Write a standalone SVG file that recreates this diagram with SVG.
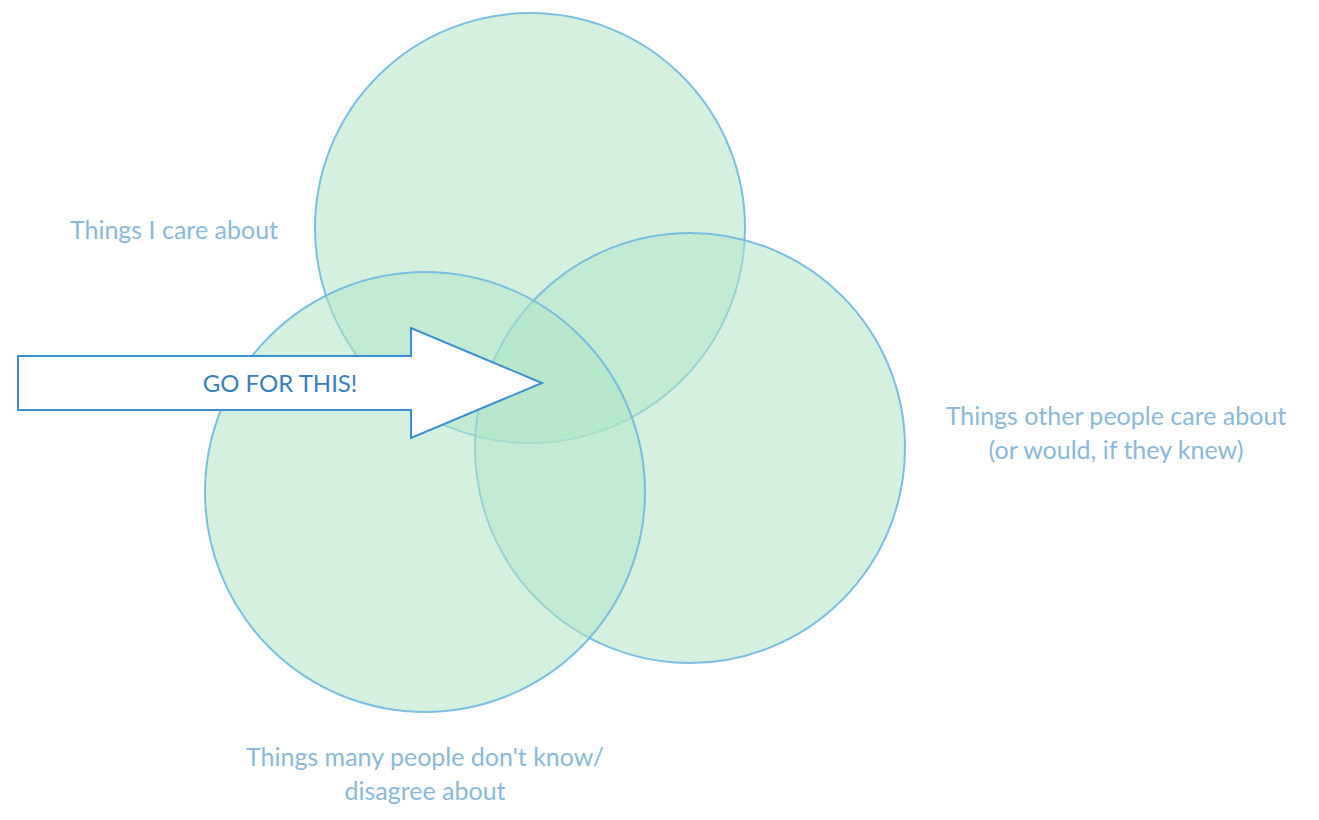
<svg xmlns="http://www.w3.org/2000/svg" width="1319" height="820" viewBox="0 0 1319 820">
<style>
.c{fill:#b1e6c7;fill-opacity:0.55;stroke:#6fb8e0;stroke-width:2;stroke-opacity:0.9}
.t{font-family:Lato,"Liberation Sans",sans-serif;font-size:25px;fill:#8ab9d9}
</style>
<rect width="1319" height="820" fill="#fff"/>
<g id="top"><circle class="c" cx="530" cy="228" r="215"/></g>
<g id="right"><circle class="c" cx="690" cy="448" r="215"/></g>
<g id="left"><circle class="c" cx="425" cy="492" r="220"/></g>
<g id="labels">
<text class="t" x="174" y="239" text-anchor="middle">Things I care about</text>
<text class="t" x="1116" y="425" text-anchor="middle">Things other people care about</text>
<text class="t" x="1116" y="459" text-anchor="middle">(or would, if they knew)</text>
<text class="t" x="425" y="766" text-anchor="middle">Things many people don't know/</text>
<text class="t" x="425" y="800" text-anchor="middle">disagree about</text>
</g>
<g id="connectors">
<g id="arrow">
<polygon points="18,356 411,356 411,328 542,383 411,438 411,410 18,410" fill="#fff" stroke="#3a90d0" stroke-width="2"/>
<text x="280" y="392" text-anchor="middle" font-family="Lato,'Liberation Sans',sans-serif" font-size="24" fill="#3a80b8">GO FOR THIS!</text>
</g>
</g>
</svg>
